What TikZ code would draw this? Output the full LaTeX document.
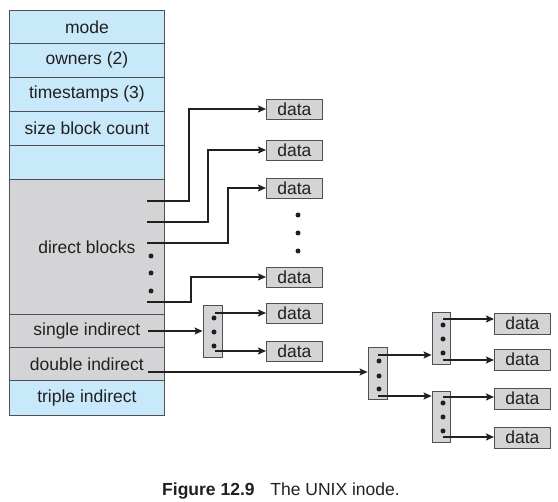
\documentclass[tikz,border=0pt]{standalone}
\usepackage{fontspec}
\setmainfont{Liberation Sans}
\usetikzlibrary{arrows.meta}
\definecolor{lblue}{RGB}{199,233,249}
\definecolor{lgray}{RGB}{212,212,214}
\definecolor{ink}{RGB}{35,31,32}
\definecolor{edge}{RGB}{80,80,82}
\begin{document}
\begin{tikzpicture}[x=1pt,y=-1pt,
  font=\fontsize{17.5}{19}\selectfont,
  cell/.style={draw=edge,line width=0.8pt,inner sep=0pt,minimum width=155pt,anchor=north west,text=ink},
  datab/.style={draw=edge,line width=0.8pt,fill=lgray,inner sep=0pt,minimum width=56pt,minimum height=20pt,anchor=west,text=ink},
  ptr/.style={draw=edge,line width=0.8pt,fill=lgray,inner sep=0pt,minimum width=19pt,minimum height=52pt},
  conn/.style={draw=ink,line width=1.4pt},
  arr/.style={conn,-{Stealth[length=8pt,width=7pt,inset=1.5pt]}},
  dot/.style={circle,fill=ink,inner sep=0pt,minimum size=5pt}]
\useasboundingbox (0,0) rectangle (558,502);
% inode table
\node[cell,fill=lblue,minimum height=33pt] (mode) at (9,10) {mode};
\node[cell,fill=lblue,minimum height=34pt] (own) at (9,43) {owners (2)};
\node[cell,fill=lblue,minimum height=34pt] (ts) at (9,77) {timestamps (3)};
\node[cell,fill=lblue,minimum height=34pt] (size) at (9,111) {size block count};
\node[cell,fill=lblue,minimum height=34pt] (empty) at (9,145) {};
\node[cell,fill=lgray,minimum height=135pt] (direct) at (9,179) {direct blocks};
\node[cell,fill=lgray,minimum height=33pt] (single) at (9,314) {single indirect};
\node[cell,fill=lgray,minimum height=33pt] (double) at (9,347) {double indirect};
\node[cell,fill=lblue,minimum height=35pt] (triple) at (9,380) {triple indirect};
% dots in direct blocks
\node[dot] (dd1) at (151,256) {};
\node[dot] (dd2) at (151,273) {};
\node[dot] (dd3) at (151,291) {};
% data blocks
\node[datab] (d1) at (266,109) {data};
\node[datab] (d2) at (266,150) {data};
\node[datab] (d3) at (266,188) {data};
\node[datab] (d4) at (266,277) {data};
\node[dot] (vd1) at (298,215) {};
\node[dot] (vd2) at (298,233) {};
\node[dot] (vd3) at (298,251) {};
\node[datab] (s1) at (266,313) {data};
\node[datab] (s2) at (266,351) {data};
\node[datab,minimum height=21pt] (t1) at (494,323.5) {data};
\node[datab,minimum height=21pt] (t2) at (494,359.5) {data};
\node[datab,minimum height=21pt] (t3) at (494,398.5) {data};
\node[datab,minimum height=21pt] (t4) at (494,437.5) {data};
% pointer blocks
\node[ptr] (si) at (212.5,331) {};
\node[dot] at (214,318) {};
\node[dot] at (214,332) {};
\node[dot] at (214,346) {};
\node[ptr] (di) at (377.5,373) {};
\node[dot] at (379,361) {};
\node[dot] at (379,376) {};
\node[dot] at (379,389) {};
\node[ptr,minimum width=18pt] (tb) at (441,338) {};
\node[dot] at (443,325) {};
\node[dot] at (443,339) {};
\node[dot] at (443,353) {};
\node[ptr,minimum width=18pt,minimum height=51pt] (bb) at (441,416.5) {};
\node[dot] at (443,403) {};
\node[dot] at (443,417) {};
\node[dot] at (443,431) {};
% start points
\coordinate (c1) at (147,201);
\coordinate (c2) at (147,222);
\coordinate (c3) at (147,243);
\coordinate (c4) at (147,302);
\coordinate (cs) at (148,331);
\coordinate (cd) at (148,372);
\coordinate (so1) at (215,313);
\coordinate (so2) at (215,351);
\coordinate (do1) at (378,355);
\coordinate (do2) at (378,396);
\coordinate (to1) at (443,319);
\coordinate (to2) at (443,360);
\coordinate (bo1) at (443,397);
\coordinate (bo2) at (443,437);
% connectors
\draw[arr] (c1) -- ++(42,0) |- (d1.west);
\draw[arr] (c2) -- ++(61,0) |- (d2.west);
\draw[arr] (c3) -- ++(81,0) |- (d3.west);
\draw[arr] (c4) -- ++(44,0) |- (d4.west);
\draw[arr] (cs) -- (si.west);
\draw[arr] (so1) -- (so1 -| s1.west);
\draw[arr] (so2) -- (so2 -| s2.west);
\draw[arr] (cd) -- (cd -| di.west);
\draw[arr] (do1) -- (do1 -| tb.west);
\draw[arr] (do2) -- (do2 -| bb.west);
\draw[arr] (to1) -- (to1 -| t1.west);
\draw[arr] (to2) -- (to2 -| t2.west);
\draw[arr] (bo1) -- (bo1 -| t3.west);
\draw[arr] (bo2) -- (bo2 -| t4.west);
% caption
\node[text=ink,anchor=base] (cap) at (281,496) {\textbf{Figure 12.9}\hspace{0.9em}The UNIX inode.};
\end{tikzpicture}
\end{document}
